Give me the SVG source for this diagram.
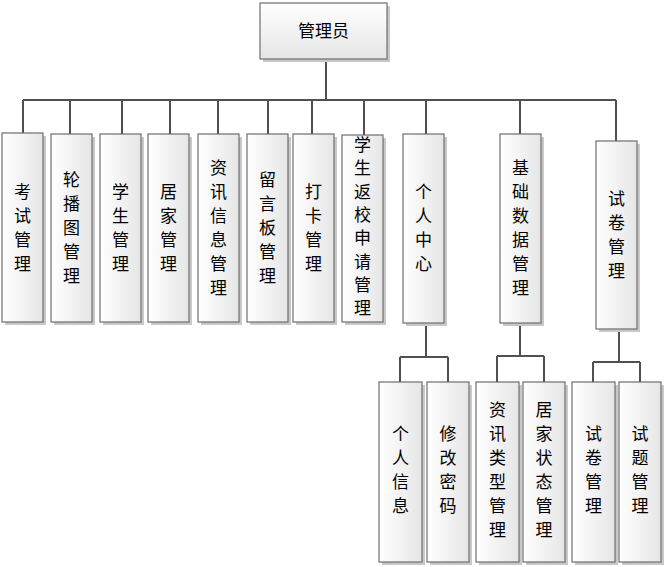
<svg xmlns="http://www.w3.org/2000/svg" width="672" height="567" viewBox="0 0 672 567">
<defs>
<linearGradient id="g" x1="0" y1="0" x2="1" y2="0"><stop offset="0" stop-color="#ffffff"/><stop offset="1" stop-color="#e6e6e6"/></linearGradient>
<linearGradient id="gv" x1="0" y1="0" x2="0" y2="1"><stop offset="0" stop-color="#ffffff"/><stop offset="1" stop-color="#e6e6e6"/></linearGradient>
<style>
.b{fill:url(#g);stroke:#6e6e6e;stroke-width:1.2}
.s{fill:#c8c8c8}
.t{font-family:"Noto Sans CJK SC","Liberation Sans",sans-serif;font-size:17px;fill:#000;text-anchor:middle}
.c{fill:none;stroke:#505050;stroke-width:2}
</style>
</defs>
<g id="connectors">
<path class="c" d="M326 59V100M23 100H616M23 100V133M70 100V134M122 100V134M170 100V134M218 100V134M268 100V134M312 100V134M364 100V135M426 100V134M520 100V134M616 100V141"/>
<path class="c" d="M426 323V357M400 357H448M400 357V382M448 357V382"/>
<path class="c" d="M520 323V356M497 356H544M497 356V382M544 356V382"/>
<path class="c" d="M619 329V362M593 362H640M593 362V382M640 362V382"/>
</g>
<g id="root"><rect class="s" x="263" y="6" width="127" height="56"/><rect x="260" y="3" width="127" height="56" fill="url(#gv)" stroke="#6e6e6e" stroke-width="1.2"/><text class="t" x="323.5" y="37">管理员</text></g>
<g id="n1"><rect class="s" x="5" y="136" width="41" height="189"/><rect class="b" x="2" y="133" width="41" height="189"/><text class="t" x="22.5"><tspan x="22.5" y="198">考</tspan><tspan x="22.5" dy="24">试</tspan><tspan x="22.5" dy="24">管</tspan><tspan x="22.5" dy="24">理</tspan></text></g>
<g id="n2"><rect class="s" x="54" y="137" width="41" height="188"/><rect class="b" x="51" y="134" width="41" height="188"/><text class="t"><tspan x="71.5" y="186">轮</tspan><tspan x="71.5" dy="24">播</tspan><tspan x="71.5" dy="24">图</tspan><tspan x="71.5" dy="24">管</tspan><tspan x="71.5" dy="24">理</tspan></text></g>
<g id="n3"><rect class="s" x="103" y="137" width="41" height="188"/><rect class="b" x="100" y="134" width="41" height="188"/><text class="t"><tspan x="120.5" y="198">学</tspan><tspan x="120.5" dy="24">生</tspan><tspan x="120.5" dy="24">管</tspan><tspan x="120.5" dy="24">理</tspan></text></g>
<g id="n4"><rect class="s" x="151" y="137" width="41" height="188"/><rect class="b" x="148" y="134" width="41" height="188"/><text class="t"><tspan x="168.5" y="198">居</tspan><tspan x="168.5" dy="24">家</tspan><tspan x="168.5" dy="24">管</tspan><tspan x="168.5" dy="24">理</tspan></text></g>
<g id="n5"><rect class="s" x="201" y="137" width="41" height="188"/><rect class="b" x="198" y="134" width="41" height="188"/><text class="t"><tspan x="218.5" y="174">资</tspan><tspan x="218.5" dy="24">讯</tspan><tspan x="218.5" dy="24">信</tspan><tspan x="218.5" dy="24">息</tspan><tspan x="218.5" dy="24">管</tspan><tspan x="218.5" dy="24">理</tspan></text></g>
<g id="n6"><rect class="s" x="250" y="137" width="41" height="188"/><rect class="b" x="247" y="134" width="41" height="188"/><text class="t"><tspan x="267.5" y="186">留</tspan><tspan x="267.5" dy="24">言</tspan><tspan x="267.5" dy="24">板</tspan><tspan x="267.5" dy="24">管</tspan><tspan x="267.5" dy="24">理</tspan></text></g>
<g id="n7"><rect class="s" x="296" y="137" width="41" height="188"/><rect class="b" x="293" y="134" width="41" height="188"/><text class="t"><tspan x="313.5" y="198">打</tspan><tspan x="313.5" dy="24">卡</tspan><tspan x="313.5" dy="24">管</tspan><tspan x="313.5" dy="24">理</tspan></text></g>
<g id="n8"><rect class="s" x="345" y="138" width="41" height="187"/><rect class="b" x="342" y="135" width="41" height="187"/><text class="t"><tspan x="362.5" y="151">学</tspan><tspan x="362.5" dy="23.3">生</tspan><tspan x="362.5" dy="23.3">返</tspan><tspan x="362.5" dy="23.3">校</tspan><tspan x="362.5" dy="23.3">申</tspan><tspan x="362.5" dy="23.3">请</tspan><tspan x="362.5" dy="23.3">管</tspan><tspan x="362.5" dy="23.3">理</tspan></text></g>
<g id="n9"><rect class="s" x="406" y="137" width="41" height="189"/><rect class="b" x="403" y="134" width="41" height="189"/><text class="t"><tspan x="423.5" y="198">个</tspan><tspan x="423.5" dy="24">人</tspan><tspan x="423.5" dy="24">中</tspan><tspan x="423.5" dy="24">心</tspan></text></g>
<g id="n10"><rect class="s" x="503" y="137" width="41" height="189"/><rect class="b" x="500" y="134" width="41" height="189"/><text class="t"><tspan x="520.5" y="174">基</tspan><tspan x="520.5" dy="24">础</tspan><tspan x="520.5" dy="24">数</tspan><tspan x="520.5" dy="24">据</tspan><tspan x="520.5" dy="24">管</tspan><tspan x="520.5" dy="24">理</tspan></text></g>
<g id="n11"><rect class="s" x="599" y="144" width="41" height="188"/><rect class="b" x="596" y="141" width="41" height="188"/><text class="t"><tspan x="616.5" y="205">试</tspan><tspan x="616.5" dy="24">卷</tspan><tspan x="616.5" dy="24">管</tspan><tspan x="616.5" dy="24">理</tspan></text></g>
<g id="n12"><rect class="s" x="382" y="385" width="43" height="180"/><rect class="b" x="379" y="382" width="43" height="180"/><text class="t"><tspan x="400.5" y="440">个</tspan><tspan x="400.5" dy="24">人</tspan><tspan x="400.5" dy="24">信</tspan><tspan x="400.5" dy="24">息</tspan></text></g>
<g id="n13"><rect class="s" x="430" y="385" width="42" height="180"/><rect class="b" x="427" y="382" width="42" height="180"/><text class="t"><tspan x="448" y="440">修</tspan><tspan x="448" dy="24">改</tspan><tspan x="448" dy="24">密</tspan><tspan x="448" dy="24">码</tspan></text></g>
<g id="n14"><rect class="s" x="479" y="385" width="43" height="180"/><rect class="b" x="476" y="382" width="43" height="180"/><text class="t"><tspan x="497.5" y="416">资</tspan><tspan x="497.5" dy="24">讯</tspan><tspan x="497.5" dy="24">类</tspan><tspan x="497.5" dy="24">型</tspan><tspan x="497.5" dy="24">管</tspan><tspan x="497.5" dy="24">理</tspan></text></g>
<g id="n15"><rect class="s" x="526" y="385" width="42" height="180"/><rect class="b" x="523" y="382" width="42" height="180"/><text class="t"><tspan x="544" y="416">居</tspan><tspan x="544" dy="24">家</tspan><tspan x="544" dy="24">状</tspan><tspan x="544" dy="24">态</tspan><tspan x="544" dy="24">管</tspan><tspan x="544" dy="24">理</tspan></text></g>
<g id="n16"><rect class="s" x="575" y="385" width="43" height="180"/><rect class="b" x="572" y="382" width="43" height="180"/><text class="t"><tspan x="593.5" y="440">试</tspan><tspan x="593.5" dy="24">卷</tspan><tspan x="593.5" dy="24">管</tspan><tspan x="593.5" dy="24">理</tspan></text></g>
<g id="n17"><rect class="s" x="622" y="385" width="42" height="180"/><rect class="b" x="619" y="382" width="42" height="180"/><text class="t"><tspan x="640" y="440">试</tspan><tspan x="640" dy="24">题</tspan><tspan x="640" dy="24">管</tspan><tspan x="640" dy="24">理</tspan></text></g>
</svg>
